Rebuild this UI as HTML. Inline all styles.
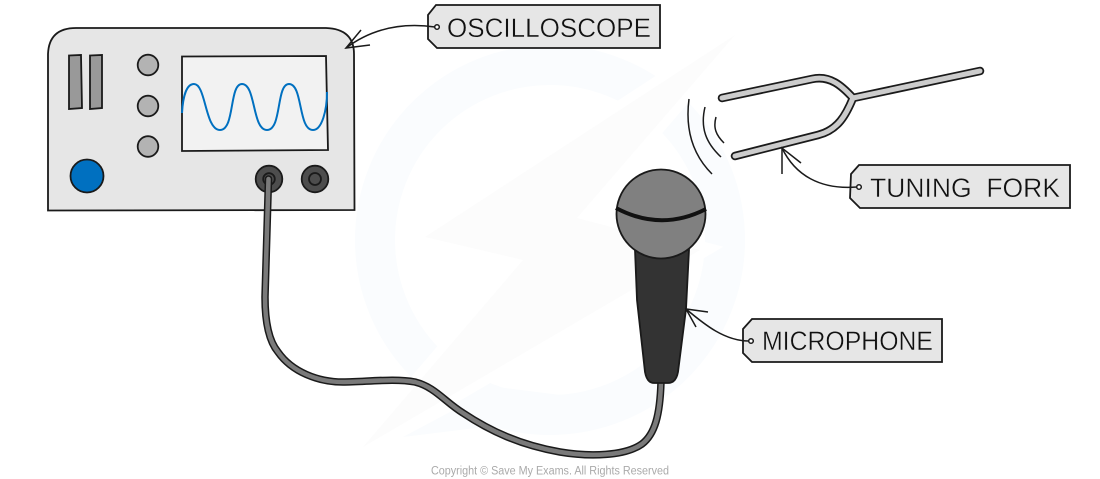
<!DOCTYPE html>
<html>
<head>
<meta charset="utf-8">
<style>
html,body{margin:0;padding:0;background:#fff;}
svg{display:block;}
text{font-family:"Liberation Sans",sans-serif;}
</style>
</head>
<body>
<svg width="1100" height="479" viewBox="0 0 1100 479" xmlns="http://www.w3.org/2000/svg">
<rect width="1100" height="479" fill="#fff"/>
<!-- watermark -->
<circle cx="550" cy="240" r="175" fill="none" stroke="#fafcfe" stroke-width="40"/>
<path d="M735 35L425 237L523 260L363 447L700 250L577 218Z" fill="#fff" stroke="#fff" stroke-width="18"/>
<path d="M735 35L425 237L523 260L363 447L700 250L577 218Z" fill="#fcfcfc"/>
<path d="M403 437L497 387L600 400L500 425Z" fill="#fafcfe"/>

<!-- oscilloscope -->
<path d="M48 54Q49 28 76 28L326 28Q354 29 354 54L354.500 210L48 210.500Z" fill="#e6e6e6" stroke="#1a1a1a" stroke-width="1.800"/>
<path d="M69 55.500L81 55L82 108L69 109Z" fill="#999" stroke="#1a1a1a" stroke-width="1.800"/>
<path d="M90 55.500L102 55L102 108L90 109Z" fill="#999" stroke="#1a1a1a" stroke-width="1.800"/>
<circle cx="148" cy="65" r="10.300" fill="#b3b3b3" stroke="#1a1a1a" stroke-width="1.800"/>
<circle cx="148" cy="106" r="10.300" fill="#b3b3b3" stroke="#1a1a1a" stroke-width="1.800"/>
<circle cx="148" cy="146.500" r="10.300" fill="#b3b3b3" stroke="#1a1a1a" stroke-width="1.800"/>
<path d="M182 56.500L326 56L328 150L182 151Z" fill="#f2f2f2" stroke="#1a1a1a" stroke-width="1.800"/>
<path d="M182 113C183 95 187 84 194 84C206 84 205 130 220 130C235 130 229 84 242 84C256 84 252 130 267 130C282 130 276 84 289 84C303 84 298 130 313 130C322 130 327 110 327 92" fill="none" stroke="#0070c0" stroke-width="2"/>
<circle cx="87" cy="176" r="16.500" fill="#0070c0" stroke="#1a1a1a" stroke-width="1.800"/>
<circle cx="269" cy="179" r="13.300" fill="#4d4d4d" stroke="#1a1a1a" stroke-width="1.800"/>
<circle cx="269" cy="179" r="5.800" fill="#4d4d4d" stroke="#1a1a1a" stroke-width="1.800"/>
<circle cx="315" cy="179" r="13.300" fill="#4d4d4d" stroke="#1a1a1a" stroke-width="1.800"/>
<circle cx="315" cy="179" r="6" fill="#4d4d4d" stroke="#1a1a1a" stroke-width="1.800"/>

<!-- cable -->
<path d="M268.500 179L265 297C265 320 268 340 278 352C292 372 318 382 343 382C365 382 395 378 415 382C435 387 445 402 463 413C490 431 520 445 560 452C590 457 625 456 642 444C655 434 660 415 661 382" fill="none" stroke="#1a1a1a" stroke-width="7.500" stroke-linecap="round"/>
<path d="M268.500 179L265 297C265 320 268 340 278 352C292 372 318 382 343 382C365 382 395 378 415 382C435 387 445 402 463 413C490 431 520 445 560 452C590 457 625 456 642 444C655 434 660 415 661 382" fill="none" stroke="#7a7a7a" stroke-width="4.500" stroke-linecap="round"/>

<!-- microphone -->
<path d="M635 250L689 250L686 309L678 372Q676 383 668 383L654 383Q647 383 645 372L637 300Z" fill="#333" stroke="#1a1a1a" stroke-width="1.800"/>
<circle cx="661" cy="214" r="44.500" fill="#808080" stroke="#1a1a1a" stroke-width="1.800"/>
<path d="M616 208Q661 232 706 209" fill="none" stroke="#111" stroke-width="4"/>

<!-- tuning fork -->
<g fill="none" stroke-linecap="round" stroke-linejoin="round">
<path d="M722 98L812 79C830 75 842 86 853 98C846 115 838 130 818 135L735 156M853 98L980 71" stroke="#1a1a1a" stroke-width="8.500"/>
<path d="M722 98L812 79C830 75 842 86 853 98C846 115 838 130 818 135L735 156M853 98L980 71" stroke="#ccc" stroke-width="5"/>
</g>
<g fill="none" stroke="#1a1a1a" stroke-width="1.500">
<path d="M689 99C685 130 693 155 712 174"/>
<path d="M705 107C700 128 706 143 721 157"/>
<path d="M716 117C713 128 716 135 724 143"/>
</g>

<!-- tags -->
<g fill="#e6e6e6" stroke="#1a1a1a" stroke-width="1.800">
<path d="M436 5L660 5L660 48L437 48L428 39L428 15Z"/>
<path d="M859 165L1070 165L1070 208L860 208L850 198L851 174Z"/>
<path d="M752 319L942 319L942 362L752 362L743 353L743 329Z"/>
</g>
<g fill="#fff" stroke="#1a1a1a" stroke-width="1.500">
<circle cx="437" cy="27" r="2.300"/>
<circle cx="859" cy="187" r="2.300"/>
<circle cx="751" cy="341" r="2.300"/>
</g>
<g font-size="27" fill="#111" stroke="#e6e6e6" stroke-width="0.400">
<text x="447" y="37" textLength="204" lengthAdjust="spacingAndGlyphs">OSCILLOSCOPE</text>
<text x="870" y="197" textLength="190" lengthAdjust="spacingAndGlyphs" xml:space="preserve">TUNING  FORK</text>
<text x="762" y="350" textLength="171" lengthAdjust="spacingAndGlyphs">MICROPHONE</text>
</g>

<!-- leader arrows -->
<g fill="none" stroke="#1a1a1a" stroke-width="1.500">
<path d="M435 27C400 22 370 30 346 48"/>
<path d="M361 30L346 48L370 45"/>
<path d="M857 187C820 190 795 175 782 148"/>
<path d="M782 174L782 148L801 163"/>
<path d="M749 341C725 341 705 325 686 309"/>
<path d="M708 312L686 309L696 327"/>
</g>

<text x="431" y="474.500" font-size="11.500" fill="#aaa" textLength="238" lengthAdjust="spacingAndGlyphs">Copyright © Save My Exams. All Rights Reserved</text>
</svg>
</body>
</html>
